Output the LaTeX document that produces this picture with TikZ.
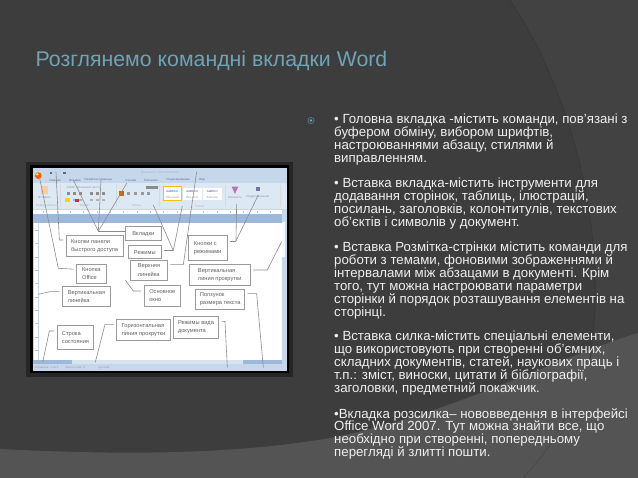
\documentclass[tikz,border=0pt]{standalone}
\usepackage{fontspec}
\setmainfont{Liberation Sans}
\usepackage{xcolor}
\definecolor{slidebase}{HTML}{3D3D3D}
\definecolor{slideright}{HTML}{424242}
\definecolor{slidelow}{HTML}{545454}
\definecolor{titleblue}{HTML}{6FA3B5}
\definecolor{bodywhite}{HTML}{EFEFEF}
\definecolor{wordblue}{HTML}{C6D7EB}
\definecolor{wordmid}{HTML}{9DB8DA}
\definecolor{wordribbon}{HTML}{DDE8F5}
\definecolor{calloutgray}{HTML}{9A9A9A}
\tikzset{
  para/.style={anchor=north west,inner sep=0pt,align=left,text=bodywhite,font=\fontsize{13.25}{12.85}\selectfont},
  tinytext/.style={inner sep=0pt,text=black!40,font=\fontsize{3}{3.4}\selectfont},
  callbox/.style={draw=calloutgray,line width=.9pt,fill=white,inner sep=0pt,align=left,text=black!62,font=\fontsize{5.7}{8.3}\selectfont},
  callout/.style={draw=black!45,line width=.6pt,shorten <=2.5pt},
  fanline/.style={draw=black!45,line width=.6pt}
}

\begin{document}
\begin{tikzpicture}[x=1pt,y=-1pt]
\useasboundingbox (0,0) rectangle (638,478);
% slide background
\fill[slidebase] (0,0) rectangle (638,478);
\fill[slideright] (510,0) .. controls (570,90) and (610,230) .. (590,360) .. controls (578,410) and (550,450) .. (523,478) -- (638,478) -- (638,0) -- cycle;
\fill[slidelow] (0,449) .. controls (120,455) and (230,455) .. (330,438) .. controls (450,415) and (550,360) .. (638,333) -- (638,478) -- (0,478) -- cycle;
\draw[black!78,line width=.8pt] (510,0) .. controls (570,90) and (610,230) .. (590,360);
\draw[black!72,line width=.6pt] (566,415) .. controls (555,440) and (540,460) .. (523,478);

\node[anchor=base west,inner sep=0pt,text=titleblue,font=\fontsize{21.3}{24}\selectfont] (slidetitle) at (35.5,67) {Розглянемо командні вкладки Word};

% bullet
\fill[titleblue!70!black] (311,120.5) circle (3.6);
\fill[slidebase] (311,120.5) circle (2.5);
\fill[titleblue] (311,120.5) circle (1.4);

% text column
\node[para] (parahome) at (334,114) {• Головна вкладка -містить команди, пов’язані з\\буфером обміну, вибором шрифтів,\\настроюваннями абзацу, стилями й\\виправленням.};
\node[para] (parains) at (334,178) {• Вставка вкладка-містить інструменти для\\додавання сторінок, таблиць, ілюстрацій,\\посилань, заголовків, колонтитулів, текстових\\об’єктів і символів у документ.};
\node[para] (paralay) at (334,242) {• Вставка Розмітка-стрінки містить команди для\\роботи з темами, фоновими зображеннями й\\інтервалами між абзацами в документі. Крім\\того, тут можна настроювати параметри\\сторінки й порядок розташування елементів на\\сторінці.};
\node[para] (pararef) at (334,331) {• Вставка силка-містить спеціальні елементи,\\що використовують при створенні об’ємних,\\складних документів, статей, наукових праць і\\т.п.: зміст, виноски, цитати й бібліографії,\\заголовки, предметний покажчик.};
\node[para] (paramail) at (334,408) {•Вкладка розсилка– нововведення в інтерфейсі\\Office Word 2007. Тут можна знайти все, що\\необхідно при створенні, попередньому\\перегляді й злитті пошти.};

% screenshot, coordinates in thirds of a pixel
\begin{scope}[shift={(20,130)},x=.3333pt,y=-.3333pt]
\fill[black!85] (18,95) rectangle (820,740);
\fill[black] (30,105) rectangle (808,730);
\fill[wordblue] (38,115) rectangle (800,722);
\fill[wordribbon] (38,160) rectangle (800,236);
\fill[white] (38,240) rectangle (785,252);
\fill[wordmid] (38,252) rectangle (785,278);
\fill[white] (58,278) rectangle (785,690);
\fill[white] (42,278) rectangle (55,690);
\fill[wordblue] (785,252) rectangle (798,690);
\fill[white!80!wordblue] (785,275) rectangle (795,380);
\fill[wordmid] (38,690) rectangle (785,703);
\fill[white!60!wordmid] (155,691) rectangle (670,702);
% ruler ticks
\foreach \xtick in {70,110,...,770}
  \fill[black!25] (\xtick,244) rectangle ++(3,4);
\foreach \ytick in {300,340,...,680}
  \fill[black!25] (44,\ytick) rectangle ++(9,2);
% ribbon
\foreach \xsep in {122,290,418,615,780}
  \draw[black!15,line width=.4pt] (\xsep,165) -- (\xsep,232);
\fill[orange!70!red] (55,137) circle (10);
\fill[yellow!60] (52,133) circle (4);
\fill[orange!40!white] (63,168) rectangle (85,193);
\fill[orange!80!black] (296,183) rectangle (311,198);
\fill[blue!30!black!60] (90,126) rectangle (97,133);
\fill[blue!30!black!60] (128,126) rectangle (137,133);
\foreach \xicon in {142,160,178,210,228,246} {
  \fill[black!45] (\xicon,186) rectangle ++(8,8);
  \fill[black!30] (\xicon,207) rectangle ++(8,7);
}
\fill[red!70!black!80] (165,207) rectangle ++(12,8);
\fill[yellow!70!orange] (135,205) rectangle ++(14,10);
\foreach \xicon in {322,342,362,382}
  \fill[black!40] (\xicon,186) rectangle ++(9,9);
\fill[black!45] (378,168) rectangle ++(35,9);
\draw[orange!50!yellow,line width=.8pt,fill=white] (430,170) rectangle (485,212);
\fill[white] (490,175) rectangle (545,210);
\fill[white] (550,175) rectangle (605,210);
\fill[blue!50!red!55] (635,170) -- (645,192) -- (655,170) -- cycle;
\fill[blue!40!black!55] (708,170) rectangle (720,182);
\foreach \txt/\xpos [count=\i] in {AaBbCcl/457,AaBbCcl/517,AaBbCc/577}
  \node[tinytext,text=blue!40!black!70] (stylea\i) at (\xpos,185) {\txt};
\foreach \txt/\xpos [count=\i] in {Обычный/457,Без инте/517,Заголов/577}
  \node[tinytext] (styleb\i) at (\xpos,203) {\txt};
\foreach \txt/\xpos [count=\i] in {Главная/105,Вставка/165,Разметка страницы/235,Ссылки/333,Рассылки/393,Рецензирование/475,Вид/546}
  \node[tinytext,text=blue!40!black!60] (tab\i) at (\xpos,150) {\txt};
\foreach \txt/\xpos [count=\i] in {Буфер обмена/80,Шрифт/195,Абзац/350,Стили/540}
  \node[tinytext,text=black!30] (grp\i) at (\xpos,228) {\txt};
\node[tinytext,text=black!30] (docname) at (420,127) {Документ1 - Microsoft Word};
\node[tinytext] (fontname) at (190,172) {Calibri (Основной текст)};
\node[tinytext] (pastelabel) at (74,201) {Вставить};
\node[tinytext] (stylebtn) at (645,202) {Изменить};
\node[tinytext] (editbtn) at (714,200) {Редактирование};
\node[tinytext] (statusa) at (80,712) {Страница: 1 из 1};
\node[tinytext] (statusb) at (165,712) {Число слов: 0};
\node[tinytext] (statusc) at (252,712) {русский};

% callout boxes
\node[callbox,minimum width=36pt,minimum height=14pt] (tabsbox) at (370,311) {Вкладки};
\node[callbox,minimum width=57.3pt,minimum height=21.3pt] (quickbox) at (224,348) {Кнопки панели\\быстрого доступа};
\node[callbox,minimum width=32.3pt,minimum height=13pt] (modesbox) at (374.5,366.5) {Режимы};
\node[callbox,minimum width=39.3pt,minimum height=24.3pt] (btnbox) at (563,353.5) {Кнопки с\\режимами};
\node[callbox,minimum width=36.7pt,minimum height=20.3pt] (rulerbox) at (387,420.5) {Верхняя\\линейка};
\node[callbox,minimum width=29.3pt,minimum height=19pt] (officebox) at (214,430.5) {Кнопка\\Office};
\node[callbox,minimum width=61pt,minimum height=20.7pt] (vscrollbox) at (599.5,435) {Вертикальная\\линия прокрутки};
\node[callbox,minimum width=36.7pt,minimum height=21pt] (mainbox) at (427,497.5) {Основное\\окно};
\node[callbox,minimum width=48.3pt,minimum height=20pt] (vrulerbox) at (199.5,499) {Вертикальная\\линейка};
\node[callbox,minimum width=49pt,minimum height=20.7pt] (sliderbox) at (600.5,508) {Ползунок\\размера текста};
\node[callbox,minimum width=53.7pt,minimum height=21pt] (hscrollbox) at (370.5,600.5) {Горизонтальная\\линия прокрутки};
\node[callbox,minimum width=45.3pt,minimum height=21.3pt] (viewbox) at (528,592) {Режимы вида\\документа};
\node[callbox,minimum width=36.3pt,minimum height=23.3pt] (statusbox) at (166.5,622) {Строка\\состояния};

% free ends of the callouts
\coordinate (tabshub) at (235,304);
\coordinate (modeshub) at (460,362);
\coordinate (btnhub) at (648,333);
\draw[fanline] (tabsbox.west |- tabshub) -- (tabshub);
\foreach \tip in {(160,150),(243,150),(320,160)}
  \draw[fanline] (tabshub) -- \tip;
\draw[callout] (modesbox.east |- modeshub) -- (modeshub);
\foreach \tip in {(400,225),(487,228)}
  \draw[fanline] (modeshub) -- \tip;
\draw[callout] (btnbox.east |- btnhub) -- (btnhub);
\foreach \tip in {(650,222),(715,195)}
  \draw[fanline] (btnhub) -- \tip;
\draw[callout] (quickbox.west |- 0,330) -- (118,330) -- (108,125);
\draw[callout] (officebox.west |- 0,418) -- (115,415) -- (58,140);
\draw[callout] (rulerbox.east |- 0,404) -- (490,404) -- (530,125);
\draw[callout] (vscrollbox.east |- 0,420) -- (742,420) -- (785,335);
\draw[callout] (mainbox.west |- 0,483) -- (340,483) -- (316,450);
\draw[callout] (vrulerbox.west |- 0,485) -- (90,485) -- (55,493);
\draw[callout] (sliderbox.east |- 0,491) -- (710,491) -- (730,712);
\draw[callout] (viewbox.east |- 0,574) -- (615,574) -- (622,712);
\draw[callout] (hscrollbox.west |- 0,583) -- (255,583) -- (226,697);
\draw[callout] (statusbox.west |- 0,603) -- (88,603) -- (68,697);
\end{scope}
\end{tikzpicture}
\end{document}
